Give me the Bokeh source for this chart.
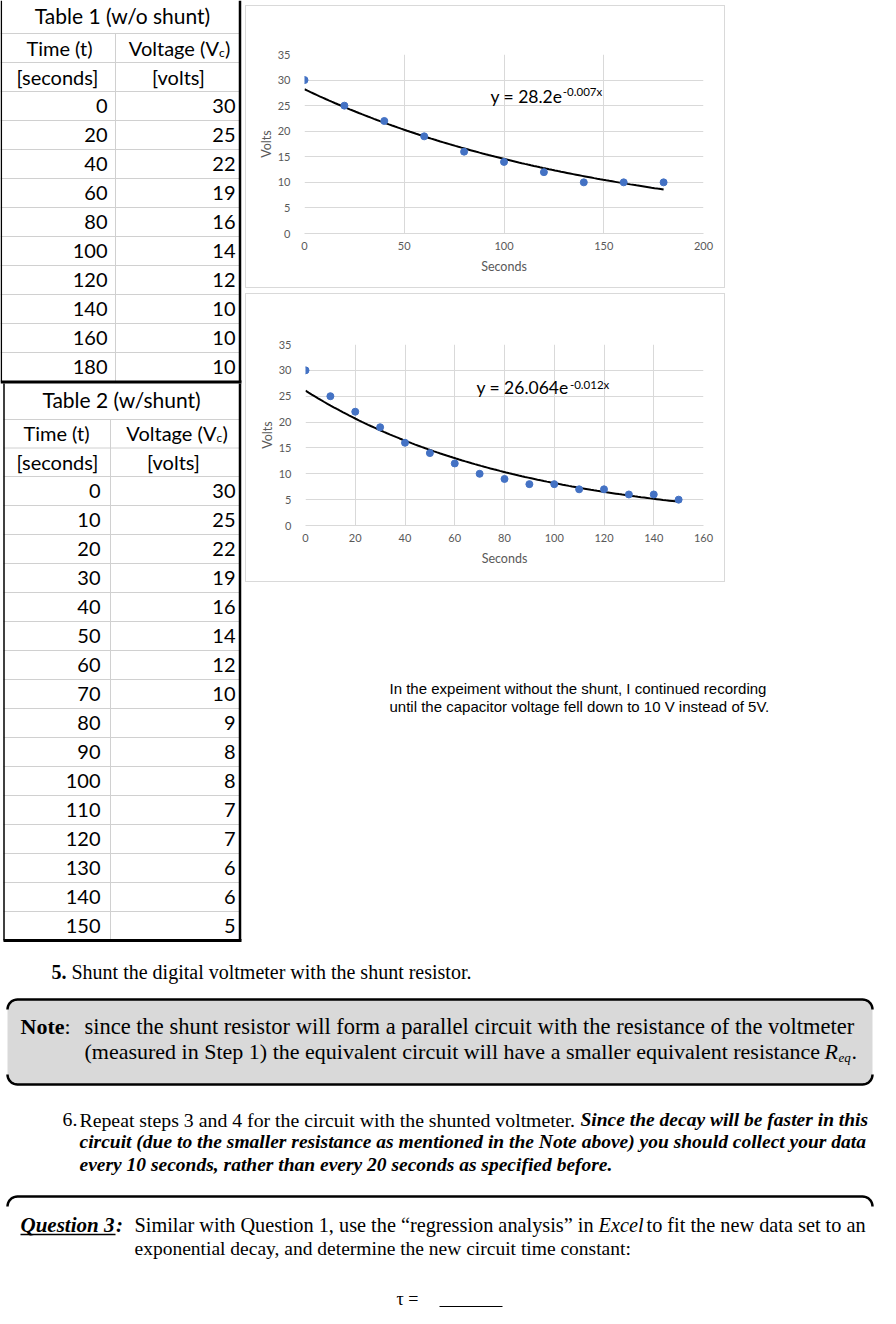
import numpy as np
from bokeh.plotting import figure
from bokeh.models import Range1d, FixedTicker, Label, Spacer
from bokeh.layouts import row, column
from bokeh.core.properties import value
from bokeh.embed import file_html
from bokeh.resources import INLINE

# ---------------- data ----------------
t1_time = [0, 20, 40, 60, 80, 100, 120, 140, 160, 180]
t1_volt = [30, 25, 22, 19, 16, 14, 12, 10, 10, 10]
t2_time = [0, 10, 20, 30, 40, 50, 60, 70, 80, 90, 100, 110, 120, 130, 140, 150]
t2_volt = [30, 25, 22, 19, 16, 14, 12, 10, 9, 8, 8, 7, 7, 6, 6, 5]

t1_title = "Table 1 (w/o shunt)"
t2_title = "Table 2 (w/shunt)"
hdr_time = "Time (t)"
hdr_volt = "Voltage (V"
hdr_volt_sub = "c"
unit_time = "[seconds]"
unit_volt = "[volts]"

chart1_title = "Without Shunt"
chart2_title = "With Shunt"
x_label = "Seconds"
y_label = "Volts"
y_ticks = [0, 5, 10, 15, 20, 25, 30, 35]
x1_ticks = [0, 50, 100, 150, 200]
x2_ticks = [0, 20, 40, 60, 80, 100, 120, 140, 160]
eq1_main, eq1_exp = "y = 28.2e", "-0.007x"
eq2_main, eq2_exp = "y = 26.064e", "-0.012x"

note_lines = ["In the expeiment without the shunt, I continued recording",
              "until the capacitor voltage fell down to 10 V instead of 5V."]

SANS = "Lato"
SERIF = "Liberation Serif"
GRID = "#D9D9D9"
TXT = "#595959"
BLUE = "#4472C4"


def txt(p, x, y, s, size, font=SERIF, style="normal", align="left",
        baseline="middle", color="black", angle=0.0):
    p.text(x=[x], y=[y], text=[s], text_font=value(font),
           text_font_size=value(f"{size}px"), text_font_style=value(style),
           text_align=value(align), text_baseline=value(baseline),
           text_color=value(color), angle=angle)


def blank(w, h, x0, x1, y0, y1):
    p = figure(width=w, height=h, x_range=Range1d(x0, x1), y_range=Range1d(y1, y0),
               output_backend="svg", toolbar_location=None, min_border=0,
               x_axis_type=None, y_axis_type=None)
    p.grid.visible = False
    p.outline_line_color = None
    return p


def rounded_edge(l, r, y, rad, down=True, n=10):
    """Top (down=True) or bottom edge of a rounded box, with its corner arcs."""
    xs, ys = [], []
    th = np.linspace(np.pi, np.pi / 2, n)
    sgn = 1 if down else -1
    cy = y + sgn * rad
    xs += list(l + rad + rad * np.cos(th)); ys += list(cy - sgn * rad * np.sin(th))
    th = np.linspace(np.pi / 2, 0, n)
    xs += list(r - rad + rad * np.cos(th)); ys += list(cy - sgn * rad * np.sin(th))
    return xs, ys


# ---------------- tables ----------------
tp = blank(245, 945, 0, 245, 0, 945)

t1_hlines = [33, 62] + [91 + 29 * k for k in range(len(t1_time))]
tp.segment(x0=[0] * len(t1_hlines), x1=[239] * len(t1_hlines), y0=t1_hlines, y1=t1_hlines,
           line_color="#D0D0D0", line_width=1)
tp.segment(x0=[115], x1=[115], y0=[33], y1=[381], line_color="#D0D0D0", line_width=1)
t2_hlines = [419, 447.5] + [476 + 29 * k for k in range(len(t2_time))]
tp.segment(x0=[3] * len(t2_hlines), x1=[239] * len(t2_hlines), y0=t2_hlines, y1=t2_hlines,
           line_color="#D0D0D0", line_width=1)
tp.segment(x0=[110], x1=[110], y0=[419], y1=[940], line_color="#D0D0D0", line_width=1)
tp.segment(x0=[0.8, 239.5, 0, 3.5, 239.5, 3],
           x1=[0.8, 239.5, 241, 3.5, 239.5, 241],
           y0=[0, 0, 381.5, 383, 383, 940],
           y1=[381, 381, 381.5, 940, 940, 940],
           line_color="black", line_width=[1.5, 2.5, 3, 1.5, 2.5, 3])

FS = 20
txt(tp, 122, 15, t1_title, 21, font=SANS, align="center")
txt(tp, 59, 47, hdr_time, FS, font=SANS, align="center")
txt(tp, 218.5, 47, hdr_volt, FS, font=SANS, align="right")
txt(tp, 218.5, 52, hdr_volt_sub, 12, font=SANS, align="left")
txt(tp, 224.5, 47, ")", FS, font=SANS, align="left")
txt(tp, 57, 76, unit_time, FS, font=SANS, align="center")
txt(tp, 178, 76, unit_volt, FS, font=SANS, align="center")
tp.text(x=[107] * len(t1_time), y=[105 + 29 * k for k in range(len(t1_time))],
        text=[str(v) for v in t1_time], text_font=value(SANS), text_font_size=value(f"{FS}px"),
        text_align="right", text_baseline="middle", text_color="black")
tp.text(x=[235] * len(t1_volt), y=[105 + 29 * k for k in range(len(t1_volt))],
        text=[str(v) for v in t1_volt], text_font=value(SANS), text_font_size=value(f"{FS}px"),
        text_align="right", text_baseline="middle", text_color="black")

txt(tp, 121, 399, t2_title, 21, font=SANS, align="center")
txt(tp, 56, 432, hdr_time, FS, font=SANS, align="center")
txt(tp, 216, 432, hdr_volt, FS, font=SANS, align="right")
txt(tp, 216, 437, hdr_volt_sub, 12, font=SANS, align="left")
txt(tp, 222, 432, ")", FS, font=SANS, align="left")
txt(tp, 57, 461, unit_time, FS, font=SANS, align="center")
txt(tp, 173, 461, unit_volt, FS, font=SANS, align="center")
tp.text(x=[100] * len(t2_time), y=[490 + 29 * k for k in range(len(t2_time))],
        text=[str(v) for v in t2_time], text_font=value(SANS), text_font_size=value(f"{FS}px"),
        text_align="right", text_baseline="middle", text_color="black")
tp.text(x=[235] * len(t2_volt), y=[490 + 29 * k for k in range(len(t2_volt))],
        text=[str(v) for v in t2_volt], text_font=value(SANS), text_font_size=value(f"{FS}px"),
        text_align="right", text_baseline="middle", text_color="black")


# ---------------- charts ----------------
def make_chart(t, v, xmax, xticks, w, h, mb, title, eq_main, eq_exp, pos):
    p = figure(width=w, height=h, x_range=Range1d(0, xmax), y_range=Range1d(0, 35),
               output_backend="svg", toolbar_location=None,
               min_border_left=mb[0], min_border_right=mb[1],
               min_border_top=mb[2], min_border_bottom=mb[3],
               styles={"border": "1px solid #D9D9D9"})
    p.outline_line_color = None
    p.xaxis.ticker = FixedTicker(ticks=xticks)
    p.yaxis.ticker = FixedTicker(ticks=y_ticks)
    for ax in (p.xaxis, p.yaxis):
        ax.major_tick_line_color = None
        ax.minor_tick_line_color = None
        ax.major_label_text_color = TXT
        ax.major_label_text_font = SANS
        ax.major_label_text_font_size = "11px"
        ax.axis_label_text_color = TXT
        ax.axis_label_text_font = SANS
        ax.axis_label_text_font_size = "12.5px"
        ax.axis_label_text_font_style = "normal"
    p.xaxis.axis_line_color = GRID
    p.yaxis.axis_line_color = None
    p.xaxis.major_label_standoff = 2
    p.yaxis.major_label_standoff = 8
    p.xaxis.axis_label = x_label
    p.yaxis.axis_label = y_label
    p.xaxis.axis_label_standoff = 6
    p.yaxis.axis_label_standoff = 1
    p.xgrid.ticker = FixedTicker(ticks=xticks)
    p.ygrid.ticker = FixedTicker(ticks=y_ticks)
    p.grid.grid_line_color = GRID

    # exponential trendline fitted to the data (Excel-style regression)
    tt = np.asarray(t, dtype=float)
    vv = np.asarray(v, dtype=float)
    b, lna = np.polyfit(tt, np.log(vv), 1)
    tx = np.linspace(0, tt.max(), 120)
    p.line(tx, np.exp(lna) * np.exp(b * tx), line_color="black", line_width=2)
    p.scatter(t, v, size=7, color=BLUE)

    p.add_layout(Label(x=pos["title"][0], y=pos["title"][1], text=title,
                       text_font=SANS, text_font_size="17.5px", text_color=TXT,
                       text_align="center", text_baseline="middle"))
    p.add_layout(Label(x=pos["eq"][0], y=pos["eq"][1], text=eq_main,
                       text_font=SANS, text_font_size="17.5px", text_color="black",
                       text_align="left", text_baseline="alphabetic"))
    p.add_layout(Label(x=pos["exp"][0], y=pos["exp"][1], text=eq_exp,
                       text_font=SANS, text_font_size="11.5px", text_color="black",
                       text_align="left", text_baseline="alphabetic"))
    return p


c1 = make_chart(t1_time, t1_volt, 200, x1_ticks, 480, 283, (58, 23, 48, 56),
                chart1_title, eq1_main, eq1_exp,
                {"title": (91.2, 40.3), "eq": (93.2, 26.7), "exp": (129.5, 27.7)})
c2 = make_chart(t2_time, t2_volt, 160, x2_ticks, 480, 289, (59, 23, 50, 58),
                chart2_title, eq2_main, eq2_exp,
                {"title": (72.7, 40.2), "eq": (68.7, 26.6), "exp": (106.3, 27.3)})

# ---------------- note under charts ----------------
nf = blank(635, 363, 245, 880, 582, 945)
txt(nf, 389, 688, note_lines[0], 15, font="Liberation Sans")
txt(nf, 389, 706, note_lines[1], 15, font="Liberation Sans")

# ---------------- bottom text ----------------
bf = blank(880, 363, 0, 880, 945, 1308)
txt(bf, 51, 971, "5.", 20, style="bold")
txt(bf, 71, 971, "Shunt the digital voltmeter with the shunt resistor.", 20)

# note box: grey fill, black top/bottom edges with rounded corners
bf.quad(left=[7], right=[872], top=[999], bottom=[1084], border_radius=10,
        fill_color="#D9D9D9", line_color=None)
for yy, dn in ((999, True), (1084, False)):
    xs, ys = rounded_edge(7, 872, yy, 10, down=dn)
    bf.line(xs, ys, line_color="black", line_width=2.5)

txt(bf, 20, 1026, "Note", 22, style="bold")
txt(bf, 64, 1026, ":", 22)
txt(bf, 84, 1026, "since the shunt resistor will form a parallel circuit with the resistance of the voltmeter", 22.5)
txt(bf, 84, 1051, "(measured in Step 1) the equivalent circuit will have a smaller equivalent resistance", 22)
txt(bf, 824, 1051, "R", 22, style="italic")
txt(bf, 838, 1057, "eq", 13, style="italic")
txt(bf, 851, 1051, ".", 22)

txt(bf, 62, 1119, "6.", 19.8)
txt(bf, 79, 1119, "Repeat steps 3 and 4 for the circuit with the shunted voltmeter.", 19.8)
txt(bf, 580, 1119, "Since the decay will be faster in this", 19.5, style="bold italic")
txt(bf, 79, 1141, "circuit (due to the smaller resistance as mentioned in the Note above) you should collect your data", 19.5, style="bold italic")
txt(bf, 79, 1164, "every 10 seconds, rather than every 20 seconds as specified before.", 19.5, style="bold italic")

xs, ys = rounded_edge(7, 872, 1196, 10, down=True)
bf.line(xs, ys, line_color="black", line_width=2.5)

txt(bf, 20, 1224, "Question 3", 21, style="bold italic")
bf.segment(x0=[20], x1=[115], y0=[1234], y1=[1234], line_color="black", line_width=1.5)
txt(bf, 115.5, 1224, ":", 21, style="bold italic")
txt(bf, 134, 1224, "Similar with Question 1, use the \u201cregression analysis\u201d in", 20.3)
txt(bf, 598, 1224, "Excel", 20.3, style="italic")
txt(bf, 646, 1224, "to fit the new data set to an", 20.3)
txt(bf, 134, 1248, "exponential decay, and determine the new circuit time constant:", 19.5)
txt(bf, 396, 1298, "\u03c4 =", 18)
bf.segment(x0=[439], x1=[502], y0=[1306], y1=[1306], line_color="black", line_width=1)

right_col = column(Spacer(width=635, height=5),
                   row(c1, Spacer(width=155, height=283)),
                   Spacer(width=635, height=5),
                   row(c2, Spacer(width=155, height=289)),
                   nf)
layout = column(row(tp, right_col), bf)

open("out.html", "w").write(file_html(layout, INLINE))
